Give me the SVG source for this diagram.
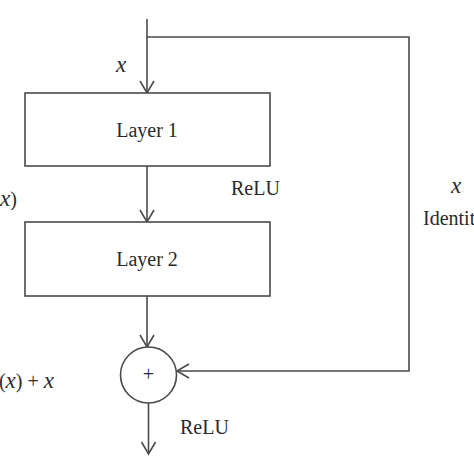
<svg xmlns="http://www.w3.org/2000/svg" width="474" height="474" viewBox="0 0 474 474">
<style>
.ln{fill:none;stroke:#4a4a4a;stroke-width:1.6}
.box{fill:#fff;stroke:#4a4a4a;stroke-width:1.6}
.t{font-family:"Liberation Serif",serif;font-size:20px;fill:#2a2a2a}
.i{font-style:italic;font-size:23px}
</style>
<defs>
<marker id="ah" markerUnits="userSpaceOnUse" markerWidth="16" markerHeight="18" viewBox="-14 -9 16 18" refX="0" refY="0" orient="auto">
<path d="M-12,-7 L0,0 L-12,7" fill="none" stroke="#4a4a4a" stroke-width="1.6"/>
</marker>
</defs>
<g id="connectors">
<line class="ln" x1="147" y1="19" x2="147" y2="93" marker-end="url(#ah)"/>
<polyline class="ln" points="147,37 409,37 409,371 177,371" marker-end="url(#ah)"/>
<line class="ln" x1="147" y1="166" x2="147" y2="222" marker-end="url(#ah)"/>
<line class="ln" x1="147" y1="296" x2="147" y2="347" marker-end="url(#ah)"/>
<line class="ln" x1="148.5" y1="403" x2="148.5" y2="454" marker-end="url(#ah)"/>
</g>
<g id="layer1">
<rect class="box" x="25" y="93" width="245" height="73"/>
<text class="t" x="147" y="137" text-anchor="middle">Layer 1</text>
</g>
<g id="layer2">
<rect class="box" x="25" y="222" width="245" height="74"/>
<text class="t" x="147" y="266" text-anchor="middle">Layer 2</text>
</g>
<g id="sum">
<circle class="box" cx="148.5" cy="375" r="28"/>
<text class="t" x="148.5" y="381" text-anchor="middle" font-size="16">+</text>
</g>
<g id="labels">
<text class="t i" x="121" y="72" text-anchor="middle">x</text>
<text class="t" x="231" y="195">ReLU</text>
<text class="t" x="17" y="206" text-anchor="end">F(<tspan class="i">x</tspan>)</text>
<text class="t" x="54" y="388" text-anchor="end">F(<tspan class="i">x</tspan>) + <tspan class="i">x</tspan></text>
<text class="t" x="180" y="434">ReLU</text>
<text class="t i" x="456" y="193" text-anchor="middle">x</text>
<text class="t" x="423" y="225">Identity</text>
</g>
</svg>
